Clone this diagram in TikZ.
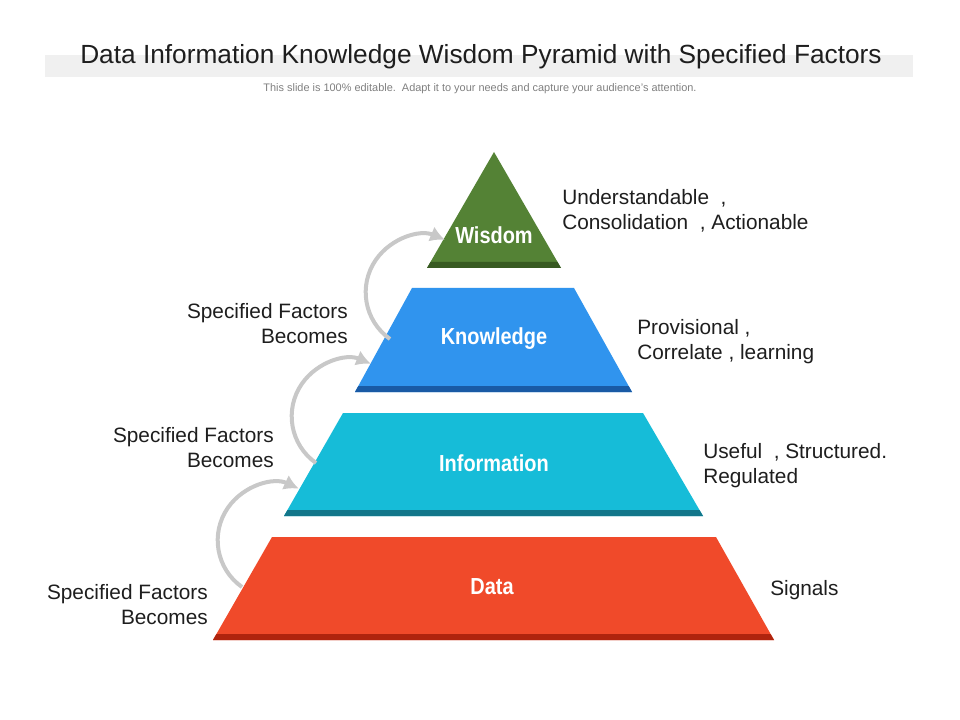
\documentclass[tikz,border=0pt]{standalone}
\usepackage{fontspec}
\setmainfont{Liberation Sans}
\newfontfamily\labelfont[FakeStretch=0.86]{Liberation Sans}
\usepackage{xcolor}
\usetikzlibrary{arrows.meta, calc}

\definecolor{bandgrey}{RGB}{240,240,240}
\definecolor{subgrey}{RGB}{128,128,128}
\definecolor{arrowgrey}{RGB}{200,200,200}
\definecolor{textdark}{RGB}{30,30,30}
\definecolor{wisdomgreen}{RGB}{84,130,53}
\definecolor{wisdomdark}{RGB}{56,90,34}
\definecolor{knowblue}{RGB}{48,148,238}
\definecolor{knowdark}{RGB}{25,90,165}
\definecolor{infocyan}{RGB}{22,188,216}
\definecolor{infodark}{RGB}{18,118,138}
\definecolor{datared}{RGB}{240,74,42}
\definecolor{datadark}{RGB}{175,36,14}

\begin{document}
\begin{tikzpicture}[x=0.75pt, y=-0.75pt, >={Latex[length=11pt,width=12pt]},
    sidetext/.style={font=\fontsize{15.6}{18.75}\selectfont, text=textdark, inner sep=0pt},
    layerlabel/.style={font=\labelfont\fontsize{17.4}{20}\selectfont\bfseries, text=white},
    flow/.style={->, line width=3pt, draw=arrowgrey}]
    % 0. Khung trang
    \fill[white] (0,0) rectangle (960,720);
    \useasboundingbox (0,0) rectangle (960,720);

    % 1. Tiêu đề và dòng phụ
    \fill[bandgrey] (45,55) rectangle (913,77);
    \node[anchor=base, font=\fontsize{19.7}{22}\selectfont, text=textdark] (title) at (481,64)
        {Data Information Knowledge Wisdom Pyramid with Specified Factors};
    \node[anchor=base, font=\fontsize{8.2}{10}\selectfont, text=subgrey] (subtitle) at (480,92)
        {This slide is 100\% editable.\ \ Adapt it to your needs and capture your audience's attention.};

    % 2. Các tầng của kim tự tháp
    % Wisdom
    \fill[wisdomgreen] (494,152) -- (561,268) -- (427,268) -- cycle;
    \fill[wisdomdark] (430.5,262) -- (557.5,262) -- (561,268) -- (427,268) -- cycle;
    % Knowledge
    \fill[knowblue] (412,288) -- (574,288) -- (632,392) -- (355,392) -- cycle;
    \fill[knowdark] (358.3,386) -- (628.7,386) -- (632,392) -- (355,392) -- cycle;
    % Information
    \fill[infocyan] (343,413) -- (643,413) -- (703,516) -- (284,516) -- cycle;
    \fill[infodark] (287.5,510) -- (699.5,510) -- (703,516) -- (284,516) -- cycle;
    % Data
    \fill[datared] (272,537) -- (716,537) -- (774,640) -- (213,640) -- cycle;
    \fill[datadark] (216.4,634) -- (770.6,634) -- (774,640) -- (213,640) -- cycle;

    % Nhãn các tầng
    \node[layerlabel] (wisdom) at (494,235) {Wisdom};
    \node[layerlabel] (knowledge) at (494,339) {Knowledge};
    \node[layerlabel] (information) at (494,463) {Information};
    \node[layerlabel] (data) at (492,587) {Data};

    % 3. Mũi tên cong giữa các tầng
    \coordinate (d-out) at (242,587);
    \coordinate (i-out) at (316,463);
    \coordinate (k-out) at (390,339);
    \draw[flow] (d-out) arc[start angle=125, end angle=295, radius=57];
    \draw[flow] (i-out) arc[start angle=125, end angle=293, radius=57];
    \draw[flow] (k-out) arc[start angle=125, end angle=293, radius=57];

    % 4. Chữ bên trái
    \node[sidetext, anchor=east, align=right] (left-k) at (348,324) {Specified Factors\\Becomes};
    \node[sidetext, anchor=east, align=right] (left-i) at (274,448) {Specified Factors\\Becomes};
    \node[sidetext, anchor=east, align=right] (left-d) at (208,605) {Specified Factors\\Becomes};

    % 5. Chữ bên phải
    \node[sidetext, anchor=west, align=left] (right-w) at (562,211) {Understandable\ \ ,\\Consolidation\ \ , Actionable};
    \node[sidetext, anchor=west, align=left] (right-k) at (637,342) {Provisional ,\\Correlate , learning};
    \node[sidetext, anchor=west, align=left] (right-i) at (703,466) {Useful\ \ , Structured.\\Regulated};
    \node[sidetext, anchor=west] (right-d) at (770,590) {Signals};
\end{tikzpicture}
\end{document}
